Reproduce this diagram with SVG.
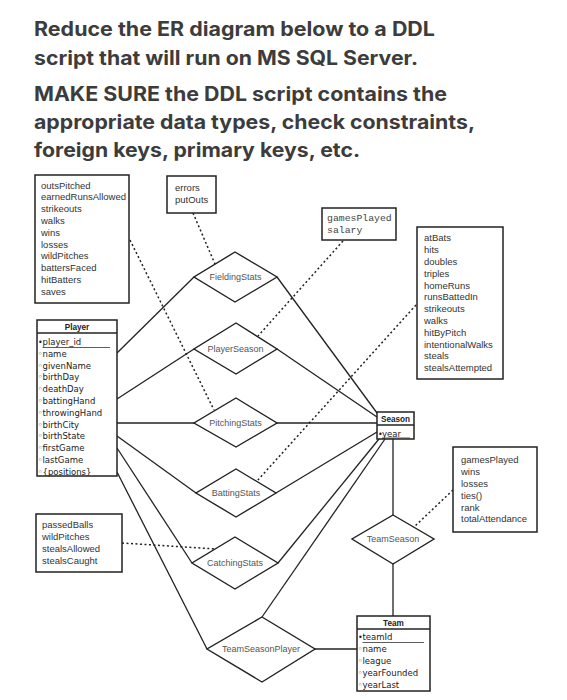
<svg xmlns="http://www.w3.org/2000/svg" width="567" height="700" viewBox="0 0 567 700">
<style>
.t{font-family:Inter,"Liberation Sans",sans-serif;font-weight:700;font-size:19.5px;fill:#3c3c3c}
.a{font-family:"Liberation Sans",Arial,sans-serif;font-size:9.5px;fill:#333}
.m{font-family:"Liberation Mono","Courier New",monospace;font-size:9.8px;fill:#444}
.e{font-family:"DejaVu Sans",sans-serif;font-size:8.5px;fill:#222}
.b{font-family:"DejaVu Sans",sans-serif;font-size:8px;fill:#222}
.o{font-family:"DejaVu Sans",sans-serif;font-size:9px;fill:#444}
.h{font-family:"Liberation Sans",Arial,sans-serif;font-size:8.2px;font-weight:700;fill:#222;text-anchor:middle}
.d{font-family:"Liberation Sans",Arial,sans-serif;font-size:9px;fill:#555;text-anchor:middle}
.box{fill:#fff;stroke:#222;stroke-width:1.5}
.dia{fill:#fff;stroke:#222;stroke-width:1.4}
.ln{stroke:#222;stroke-width:1.3;fill:none}
.dt{stroke:#222;stroke-width:1.5;stroke-dasharray:2 2.5;fill:none}
.ul{stroke:#333;stroke-width:0.8}
</style>
<rect width="567" height="700" fill="#fff"/>
<g id="title">
<text class="t" x="34" y="36" textLength="401" lengthAdjust="spacingAndGlyphs">Reduce the ER diagram below to a DDL</text>
<text class="t" x="34" y="65" textLength="384" lengthAdjust="spacingAndGlyphs">script that will run on MS SQL Server.</text>
<text class="t" x="34" y="101" textLength="413" lengthAdjust="spacingAndGlyphs">MAKE SURE the DDL script contains the</text>
<text class="t" x="34" y="129" textLength="441" lengthAdjust="spacingAndGlyphs">appropriate data types, check constraints,</text>
<text class="t" x="34" y="157" textLength="326" lengthAdjust="spacingAndGlyphs">foreign keys, primary keys, etc.</text>
</g>
<g id="connectors">
<line class="ln" x1="117" y1="353" x2="194" y2="277"/>
<line class="ln" x1="117" y1="399" x2="194" y2="349"/>
<line class="ln" x1="117" y1="423" x2="194" y2="423"/>
<line class="ln" x1="117" y1="436" x2="196" y2="493"/>
<line class="ln" x1="117" y1="448" x2="192" y2="563"/>
<line class="ln" x1="117" y1="472" x2="207" y2="649"/>
<line class="ln" x1="277" y1="277" x2="377" y2="413"/>
<line class="ln" x1="277" y1="349" x2="377" y2="417"/>
<line class="ln" x1="277" y1="423" x2="377" y2="423"/>
<line class="ln" x1="276" y1="493" x2="377" y2="432"/>
<line class="ln" x1="278" y1="563" x2="379" y2="439"/>
<line class="ln" x1="262" y1="617" x2="385" y2="439"/>
<line class="ln" x1="393" y1="439" x2="393" y2="515"/>
<line class="ln" x1="393" y1="564" x2="393" y2="616"/>
<line class="ln" x1="315" y1="649" x2="357" y2="649"/>
<line class="dt" x1="130" y1="240" x2="214" y2="410"/>
<line class="dt" x1="193" y1="213" x2="215" y2="264"/>
<line class="dt" x1="343" y1="241" x2="258" y2="336"/>
<line class="dt" x1="416" y1="305" x2="257" y2="481"/>
<line class="dt" x1="122" y1="543" x2="216" y2="549"/>
<line class="dt" x1="453" y1="490" x2="414" y2="527"/>
</g>
<g id="pitchingAttrs">
<rect class="box" x="35" y="175" width="94" height="128"/>
<text class="a" x="41" y="188.5">outsPitched</text>
<text class="a" x="41" y="200.3">earnedRunsAllowed</text>
<text class="a" x="41" y="212.1">strikeouts</text>
<text class="a" x="41" y="223.9">walks</text>
<text class="a" x="41" y="235.7">wins</text>
<text class="a" x="41" y="247.5">losses</text>
<text class="a" x="41" y="259.3">wildPitches</text>
<text class="a" x="41" y="271.1">battersFaced</text>
<text class="a" x="41" y="282.9">hitBatters</text>
<text class="a" x="41" y="294.7">saves</text>
</g>
<g id="fieldingAttrs">
<rect class="box" x="167" y="176" width="49" height="37"/>
<text class="a" x="175" y="190.5">errors</text>
<text class="a" x="175" y="202.5">putOuts</text>
</g>
<g id="playerSeasonAttrs">
<rect class="box" x="322" y="208" width="74" height="32"/>
<text class="m" x="327" y="220.5">gamesPlayed</text>
<text class="m" x="327" y="232.5">salary</text>
</g>
<g id="battingAttrs">
<rect class="box" x="417" y="227" width="86" height="152"/>
<text class="a" x="424" y="241.4">atBats</text>
<text class="a" x="424" y="253.2">hits</text>
<text class="a" x="424" y="265">doubles</text>
<text class="a" x="424" y="276.8">triples</text>
<text class="a" x="424" y="288.6">homeRuns</text>
<text class="a" x="424" y="300.4">runsBattedIn</text>
<text class="a" x="424" y="312.2">strikeouts</text>
<text class="a" x="424" y="324">walks</text>
<text class="a" x="424" y="335.8">hitByPitch</text>
<text class="a" x="424" y="347.6">intentionalWalks</text>
<text class="a" x="424" y="359.4">steals</text>
<text class="a" x="424" y="371.2">stealsAttempted</text>
</g>
<g id="Player">
<rect class="box" x="37" y="320" width="80" height="156"/>
<text class="h" x="77" y="330">Player</text>
<line class="ln" x1="37" y1="333" x2="117" y2="333"/>
<text class="b" x="38" y="345">•</text><text class="e" x="42.5" y="345">player_id</text>
<line class="ul" x1="42.5" y1="347.5" x2="110" y2="347.5"/>
<text class="o" x="37.5" y="356.8">◦</text><text class="e" x="42.5" y="356.8">name</text>
<text class="o" x="37.5" y="368.6">◦</text><text class="e" x="42.5" y="368.6">givenName</text>
<text class="o" x="37.5" y="380.4">◦</text><text class="e" x="42.5" y="380.4">birthDay</text>
<text class="o" x="37.5" y="392.2">◦</text><text class="e" x="42.5" y="392.2">deathDay</text>
<text class="o" x="37.5" y="404">◦</text><text class="e" x="42.5" y="404">battingHand</text>
<text class="o" x="37.5" y="415.8">◦</text><text class="e" x="42.5" y="415.8">throwingHand</text>
<text class="o" x="37.5" y="427.6">◦</text><text class="e" x="42.5" y="427.6">birthCity</text>
<text class="o" x="37.5" y="439.4">◦</text><text class="e" x="42.5" y="439.4">birthState</text>
<text class="o" x="37.5" y="451.2">◦</text><text class="e" x="42.5" y="451.2">firstGame</text>
<text class="o" x="37.5" y="463">◦</text><text class="e" x="42.5" y="463">lastGame</text>
<text class="o" x="37.5" y="474.8">◦</text><text class="e" x="42.5" y="474.8">{positions}</text>
</g>
<g id="FieldingStats">
<polygon class="dia" points="235,252 277,277 235,302 194,277"/>
<text class="d" x="235.5" y="280">FieldingStats</text>
</g>
<g id="PlayerSeason">
<polygon class="dia" points="236,323 277,349 236,374 194,349"/>
<text class="d" x="235.5" y="352">PlayerSeason</text>
</g>
<g id="PitchingStats">
<polygon class="dia" points="236,398 277,423 236,447 194,423"/>
<text class="d" x="235.5" y="426">PitchingStats</text>
</g>
<g id="BattingStats">
<polygon class="dia" points="236,469 276,493 236,517 196,493"/>
<text class="d" x="236" y="496">BattingStats</text>
</g>
<g id="CatchingStats">
<polygon class="dia" points="235,537 278,563 235,589 192,563"/>
<text class="d" x="235" y="566">CatchingStats</text>
</g>
<g id="TeamSeason">
<polygon class="dia" points="393,515 434,539 393,564 352,539"/>
<text class="d" x="393" y="542">TeamSeason</text>
</g>
<g id="TeamSeasonPlayer">
<polygon class="dia" points="262,617 315,649 262,682 207,649"/>
<text class="d" x="261" y="652">TeamSeasonPlayer</text>
</g>
<g id="catchingAttrs">
<rect class="box" x="36" y="514" width="86" height="58"/>
<text class="a" x="42" y="528.4">passedBalls</text>
<text class="a" x="42" y="540.2">wildPitches</text>
<text class="a" x="42" y="552">stealsAllowed</text>
<text class="a" x="42" y="563.8">stealsCaught</text>
</g>
<g id="teamSeasonAttrs">
<rect class="box" x="453" y="447" width="84" height="85"/>
<text class="a" x="461" y="463.4">gamesPlayed</text>
<text class="a" x="461" y="475.2">wins</text>
<text class="a" x="461" y="487">losses</text>
<text class="a" x="461" y="498.8">ties()</text>
<text class="a" x="461" y="510.6">rank</text>
<text class="a" x="461" y="522.4">totalAttendance</text>
</g>
<g id="Season">
<rect class="box" x="377" y="412" width="37" height="27"/>
<text class="h" x="395.5" y="422">Season</text>
<line class="ln" x1="377" y1="425" x2="414" y2="425"/>
<text class="b" x="378" y="437">•</text><text class="e" x="382" y="437">year</text>
<line class="ul" x1="382" y1="438" x2="410" y2="438"/>
</g>
<g id="Team">
<rect class="box" x="357" y="616" width="73" height="75"/>
<text class="h" x="393.5" y="626">Team</text>
<line class="ln" x1="357" y1="629" x2="430" y2="629"/>
<text class="b" x="358" y="640">•</text><text class="e" x="362.5" y="640">teamId</text>
<line class="ul" x1="362.5" y1="642.5" x2="424" y2="642.5"/>
<text class="o" x="357.5" y="652">◦</text><text class="e" x="362.5" y="652">name</text>
<text class="o" x="357.5" y="664">◦</text><text class="e" x="362.5" y="664">league</text>
<text class="o" x="357.5" y="676">◦</text><text class="e" x="362.5" y="676">yearFounded</text>
<text class="o" x="357.5" y="688">◦</text><text class="e" x="362.5" y="688">yearLast</text>
</g>
</svg>
